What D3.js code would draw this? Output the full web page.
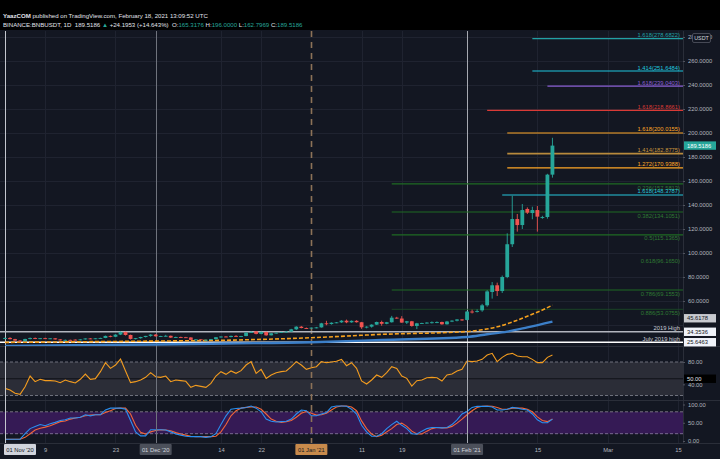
<!DOCTYPE html>
<html>
<head>
<meta charset="utf-8">
<script src="https://cdn.jsdelivr.net/npm/d3@7"></script>
<style>
body{margin:0;background:#000;}
svg{display:block;font-family:"Liberation Sans",Arial,sans-serif;}
</style>
</head>
<body>
<svg id="chart" width="720" height="459"></svg>
<script>
// daily candles from 01 Nov 2020, [open, high, low, close]
var firstDay = "2020-11-01";
var candles = [
  [28.6,29.6,28.2,29.2],[29.2,29.9,28.0,28.2],[28.2,28.5,26.8,27.0],[27.0,27.5,26.2,26.6],[26.6,28.6,26.5,28.3],
  [28.3,29.6,28.0,29.1],[29.1,29.6,28.2,28.4],[28.4,29.2,28.2,29.0],[29.0,29.4,28.3,28.5],[28.5,29.1,28.2,28.9],
  [28.9,29.1,27.8,28.0],[28.0,28.3,27.0,27.2],[27.2,27.9,27.0,27.6],[27.6,27.8,27.0,27.1],[27.8,28.0,27.2,27.4],
  [27.4,28.2,27.2,28.0],[28.0,28.9,27.8,28.8],[28.8,29.1,28.2,28.4],[28.4,29.0,28.2,28.9],[28.9,29.4,28.7,29.2],
  [29.2,31.2,29.0,30.9],[30.9,31.2,29.8,30.2],[30.2,32.3,29.9,32.0],[32.0,34.6,31.6,34.2],[34.2,34.5,31.2,31.7],
  [31.7,32.0,27.9,28.4],[28.4,29.2,28.0,29.0],[29.0,30.2,28.6,30.0],[30.0,31.0,29.6,30.9],[30.9,32.4,30.2,32.0],
  // Dec
  [32.0,32.4,30.4,30.6],[30.6,31.0,30.2,30.8],[30.8,31.8,30.3,31.0],[31.0,31.2,29.2,29.5],[29.5,30.3,29.2,30.0],
  [30.0,30.3,29.5,29.8],[29.8,30.1,29.3,29.6],[29.6,29.9,27.3,27.6],[27.6,28.2,27.0,28.0],[28.0,28.3,27.4,27.6],
  [27.6,27.9,27.1,27.7],[27.7,28.3,27.5,28.2],[28.2,30.0,28.0,29.8],[29.8,30.6,29.4,30.4],[30.4,30.8,29.8,30.0],
  [30.0,31.2,29.6,30.9],[30.9,31.6,30.0,30.2],[30.2,31.0,29.9,30.8],[30.8,34.0,30.6,33.6],[33.6,34.8,33.3,34.2],
  [34.7,35.0,32.2,32.6],[32.6,34.6,32.2,34.2],[34.2,34.5,31.0,31.4],[31.4,33.4,31.2,33.1],[33.1,33.8,32.8,33.6],
  [33.6,34.3,33.3,34.1],[34.1,35.0,33.6,34.5],[34.5,36.8,34.2,36.4],[36.4,39.0,35.8,38.6],[38.6,39.2,37.2,37.5],
  [37.5,37.9,36.8,37.3],
  // Jan
  [37.3,38.0,37.0,37.8],[37.8,38.4,37.2,38.0],[38.0,41.8,37.8,41.4],[41.4,43.5,39.8,40.8],[40.8,42.2,40.3,41.9],
  [41.9,42.5,41.5,42.2],[42.2,44.0,41.8,43.6],[43.6,44.5,41.5,42.2],[42.2,43.8,41.9,43.5],[43.5,44.0,42.0,42.3],
  [42.3,42.6,36.8,38.1],[38.1,39.0,37.2,38.6],[38.6,40.6,37.8,40.3],[40.3,42.8,40.0,42.5],[42.5,43.6,39.4,41.0],
  [41.0,42.6,40.6,42.3],[42.3,47.6,42.0,46.1],[46.1,46.8,45.2,45.4],[45.4,47.4,41.8,42.0],[42.0,43.4,40.8,43.1],
  [43.1,43.4,38.6,39.2],[39.2,41.8,36.6,41.4],[41.4,41.9,40.9,41.6],[41.6,42.4,41.2,42.0],[42.0,43.0,41.2,42.3],
  [42.3,43.0,41.5,42.5],[42.5,42.8,40.2,40.6],[40.6,43.4,40.3,42.9],[42.9,44.0,42.4,43.6],[43.6,45.0,43.0,44.6],
  [44.6,45.0,43.4,44.0],
  // Feb
  [44.2,51.8,43.8,51.2],[51.2,52.8,49.6,51.0],[51.0,53.0,50.4,51.6],[52.2,57.6,51.0,56.4],[56.4,69.0,55.2,68.0],
  [67.5,75.8,62.0,73.1],[73.1,75.3,64.2,68.3],[68.3,81.2,66.7,80.0],[80.0,116.4,79.0,107.3],[107.3,147.7,105.0,128.3],
  [128.3,132.5,117.8,123.3],[123.3,140.8,120.0,135.8],[136.7,138.0,132.5,133.6],[133.3,138.6,128.1,135.8],[135.8,139.2,117.8,130.3],
  [129.6,131.0,128.5,130.0],[130.0,166.0,128.6,165.3],[165.3,196.0,162.8,189.5]
];

var rsi = [
  32.8,29.9,23.9,22.1,35.8,54.9,44.8,49.0,46.6,46.6,46.0,43.0,47.8,44.8,42.4,49.0,58.5,49.0,50.2,62.7,78.8,68.6,74.6,85.3,63.9,43.0,44.8,47.8,52.5,60.9,
  53.7,52.5,54.9,44.8,47.8,46.6,45.4,34.6,38.2,36.4,34.6,41.8,54.9,62.7,57.9,63.9,59.7,64.5,74.6,80.6,59.7,66.8,50.7,56.7,60.9,62.7,63.9,71.6,80.6,74.6,66.8,
  69.8,71.6,80.6,78.8,80.0,81.2,84.7,73.4,78.8,68.6,46.0,40.6,47.8,56.7,52.5,60.9,71.6,68.6,54.9,50.7,37.0,46.6,47.8,51.9,52.5,51.9,46.0,56.7,58.5,63.9,66.8,
  81.8,80.6,81.8,84.7,92.5,95.5,80.6,88.3,93.7,95.5,90.7,89.5,89.5,84.7,78.8,78.8,88.3,92.5
];
var stochK = [
  5,5,5,5,20,34,40,45,42,47,51,56,58,63,63,65,72,69,72,72,85,90,90,90,87,56,25,14,14,31,
  31,31,30,25,19,16,13,12,12,12,10,12,20,45,69,87,89,90,92,96,90,80,60,54,52,53,54,60,74,85,83,
  69,69,74,78,93,96,96,95,87,74,43,25,13,13,20,34,45,54,43,34,20,19,27,34,37,37,36,37,45,58,74,
  81,92,95,95,95,93,85,85,87,92,90,87,85,74,58,50,50,60
];
var stochD = [
  5,5,5,5,10,20,30,35,38,42,47,53,55,60,63,65,69,71,72,72,78,83,89,90,90,74,43,24,19,25,
  29,31,30,28,23,19,16,13,12,12,12,12,13,25,45,69,83,90,92,93,93,87,74,60,54,51,53,56,65,76,81,
  76,71,72,76,85,93,96,96,93,83,55,34,19,12,16,25,34,45,49,40,27,19,19,27,34,37,36,36,40,49,60,
  72,83,92,95,96,95,92,87,87,90,90,90,87,80,66,56,53,60
];

// moving averages read at a few dates
var emaDates = ["2020-11-01","2020-11-15","2020-12-01","2020-12-15","2021-01-01","2021-01-15","2021-02-01","2021-02-04","2021-02-07","2021-02-10","2021-02-13","2021-02-16","2021-02-18"];
var emaValues = [25.5,26.0,26.6,27.3,29.4,32.2,34.6,36.0,38.5,42.5,47.3,52.5,56.5];
var smaDates = ["2020-11-01","2020-11-15","2020-12-01","2020-12-15","2021-01-01","2021-01-15","2021-02-01","2021-02-05","2021-02-09","2021-02-13","2021-02-18"];
var smaValues = [22.5,23.2,23.8,24.6,25.6,27.5,30.0,32.3,34.5,38.0,42.8];

// fib levels drawn on the chart
var fibRatios = ["1.618","1.414","1.618","1.618","1.618","1.414","1.272","0.236","1.618","0.382","0.5","0.618","0.786","0.886"];
var fibPrices = [278.6822,251.6484,239.0403,218.8661,200.0155,182.8775,170.9388,157.5813,148.3787,134.1051,115.1365,96.1650,69.1553,53.0755];
var fibFrom = ["2021-02-14","2021-02-14","2021-02-17","2021-02-05","2021-02-09","2021-02-09","2021-02-09","2021-01-17","2021-02-08","2021-01-17","2021-01-17",null,"2021-01-17","2021-01-17"];

var levelNames = ["2019 High","July 2019 high"];
var levelPrices = [34.3536, 25.6463];
var maLabel = 45.6178;
var lastPrice = 189.5186;

var priceTicks = [60,80,100,120,140,160,180,200,220,240,260,280];
var rsiTicks = [80,40];
var stochTicks = [100,50,0];
var dayTicks = ["2020-11-09","2020-11-23","2020-12-14","2020-12-22","2021-01-11","2021-01-19","2021-02-15","2021-03-01","2021-03-15"];
var dayTickLabels = ["9","23","14","22","11","19","15","Mar","15"];
var monthMarks = ["2020-11-01","2020-12-01","2021-01-01","2021-02-01"];
var monthLabels = ["01 Nov '20","01 Dec '20","01 Jan '21","01 Feb '21"];

// styles
var fibColors = ["#22a0a4","#1fc6de","#8a5fd3","#d93a36","#ffa726","#b88a3c","#ffa726","#1f6b23","#26c6da","#1f6b23","#1f6b23","#1f6b23","#1f6b23","#1d4f27"];
var fibTextColors = ["#22a0a4","#1fc6de","#8a5fd3","#d93a36","#ffa726","#c8963e","#ffa726","#2f7a33","#26c6da","#2f7a33","#2f7a33","#2f7a33","#2f7a33","#2f7a33"];
var up = "#26a69a", down = "#ef5350";

var parse = d3.utcParse("%Y-%m-%d");
var svg = d3.select("#chart");
var plotR = 683, fs = 5.8;
var mainTop = 31, mainBot = 346, rsiTop = 347, rsiBot = 400, stTop = 401, stBot = 443;

var x = d3.scaleUtc().domain([parse("2020-11-01"), parse("2021-03-15")]).range([5, 678]);
var y = d3.scaleLinear().domain([60, 260]).range([301, 61]);
var yr = d3.scaleLinear().domain([20, 80]).range([395.5, 362]);
var ys = d3.scaleLinear().domain([0, 100]).range([441, 404.5]);

var day0 = parse(firstDay);
var days = candles.map(function(c, i){ return d3.utcDay.offset(day0, i); });

svg.append("rect").attr("width", 720).attr("height", 459).attr("fill", "#000");
svg.append("rect").attr("y", 30).attr("width", 720).attr("height", 429).attr("fill", "#131722");

var defs = svg.append("defs");
[["cMain",mainTop,mainBot],["cRsi",rsiTop,rsiBot],["cSt",stTop,stBot]].forEach(function(c){
  defs.append("clipPath").attr("id", c[0]).append("rect")
    .attr("x", 0).attr("y", c[1]).attr("width", plotR).attr("height", c[2]-c[1]);
});

// grid
var grid = svg.append("g");
grid.selectAll(".hg").data(priceTicks.concat([40])).enter().append("line")
  .attr("x1", 0).attr("x2", plotR).attr("y1", function(d){ return y(d)+0.5; }).attr("y2", function(d){ return y(d)+0.5; })
  .attr("stroke", "#1f2330");
grid.selectAll(".vg").data(dayTicks).enter().append("line")
  .attr("x1", function(d){ return Math.round(x(parse(d)))+0.5; }).attr("x2", function(d){ return Math.round(x(parse(d)))+0.5; })
  .attr("y1", mainTop).attr("y2", stBot).attr("stroke", "#1f2330");

// panel separators
[mainBot+0.5, rsiBot+0.5, stBot+0.5].forEach(function(v){
  svg.append("line").attr("x1",0).attr("x2",720).attr("y1",v).attr("y2",v).attr("stroke","#2a2e39");
});
svg.append("line").attr("x1",plotR+0.5).attr("x2",plotR+0.5).attr("y1",mainTop).attr("y2",stBot).attr("stroke","#2a2e39");

// RSI background
var rsiG = svg.append("g").attr("clip-path","url(#cRsi)");
rsiG.append("rect").attr("x",0).attr("width",plotR).attr("y",yr(80)).attr("height",yr(20)-yr(80)).attr("fill","#2b2d37");
[80,20].forEach(function(v){
  rsiG.append("line").attr("x1",0).attr("x2",plotR).attr("y1",yr(v)).attr("y2",yr(v))
    .attr("stroke","#6e717c").attr("stroke-dasharray","3,2");
});
rsiG.append("line").attr("x1",0).attr("x2",plotR).attr("y1",yr(50)).attr("y2",yr(50)).attr("stroke","#101218").attr("stroke-width",1.2);

// Stoch background
var stG = svg.append("g").attr("clip-path","url(#cSt)");
stG.append("rect").attr("x",0).attr("width",plotR).attr("y",ys(80)).attr("height",ys(20)-ys(80)).attr("fill","#351a55");
stG.append("line").attr("x1",0).attr("x2",plotR).attr("y1",ys(80)).attr("y2",ys(80)).attr("stroke","#77727f").attr("stroke-dasharray","3,2");
stG.append("line").attr("x1",0).attr("x2",plotR).attr("y1",ys(20)).attr("y2",ys(20)).attr("stroke","#7a6a92").attr("stroke-dasharray","3,2");

// month marker lines
var monthStroke = ["#c3c6ce","#6f737d","#8c7258","#a6a9b1"];
monthMarks.forEach(function(d, i){
  var xx = Math.round(x(parse(d)))+0.5;
  svg.append("line").attr("x1",xx).attr("x2",xx).attr("y1",mainTop).attr("y2",stBot)
    .attr("stroke",monthStroke[i]).attr("stroke-width", i==2 ? 1.6 : 1)
    .attr("stroke-dasharray", i==2 ? "6,5" : null);
});

var main = svg.append("g").attr("clip-path","url(#cMain)");

// fib lines
fibPrices.forEach(function(p, i){
  var yy = y(p);
  if (fibFrom[i]) {
    main.append("line").attr("x1", x(parse(fibFrom[i]))).attr("x2", plotR)
      .attr("y1", yy).attr("y2", yy).attr("stroke", fibColors[i])
      .attr("stroke-width", i==5 ? 1.8 : (i==13 ? 0.8 : 1.1));
  }
  var below = +fibRatios[i] < 1;
  main.append("text").attr("x", 680).attr("y", below ? yy+5.6 : yy-1.5)
    .attr("text-anchor","end").attr("font-size", fs).attr("fill", fibTextColors[i])
    .text(fibRatios[i] + "(" + p.toFixed(4) + ")");
});

// 2019 levels
var levelColors = ["#b2b5be","#ffffff"];
levelPrices.forEach(function(p, i){
  main.append("line").attr("x1",0).attr("x2",plotR).attr("y1",y(p)).attr("y2",y(p))
    .attr("stroke",levelColors[i]).attr("stroke-width",1.4);
  main.append("text").attr("x",680).attr("y",y(p)-1.3).attr("text-anchor","end")
    .attr("font-size",fs).attr("fill","#c9ccd4").text(levelNames[i]);
});

// moving averages
var maLine = d3.line().x(function(d){ return x(d[0]); }).y(function(d){ return y(d[1]); }).curve(d3.curveMonotoneX);
main.append("path").attr("d", maLine(smaDates.map(function(d,i){ return [parse(d), smaValues[i]]; })))
  .attr("fill","none").attr("stroke","#3c7fc8").attr("stroke-width",2.4);
main.append("path").attr("d", maLine(emaDates.map(function(d,i){ return [parse(d), emaValues[i]]; })))
  .attr("fill","none").attr("stroke","#f5a01e").attr("stroke-width",1.6).attr("stroke-dasharray","4,2");

// candles
var cw = 3.8;
var cg = main.selectAll(".c").data(candles).enter().append("g");
cg.append("line")
  .attr("x1", function(d,i){ return x(days[i]); }).attr("x2", function(d,i){ return x(days[i]); })
  .attr("y1", function(d){ return y(d[1]); }).attr("y2", function(d){ return y(d[2]); })
  .attr("stroke", function(d){ return d[3] >= d[0] ? up : down; }).attr("stroke-width", 0.9);
cg.append("rect")
  .attr("x", function(d,i){ return x(days[i]) - cw/2; }).attr("width", cw)
  .attr("y", function(d){ return y(Math.max(d[0], d[3])); })
  .attr("height", function(d){ return Math.max(0.9, Math.abs(y(d[0]) - y(d[3]))); })
  .attr("fill", function(d){ return d[3] >= d[0] ? up : down; });

// RSI line
var rsiLine = d3.line().x(function(d,i){ return x(days[i]); }).y(function(d){ return yr(d); });
rsiG.append("path").attr("d", rsiLine(rsi)).attr("fill","none").attr("stroke","#f39c1f").attr("stroke-width",1.1);

// Stoch lines
var stLine = d3.line().x(function(d,i){ return x(days[i]); }).y(function(d){ return ys(d); });
stG.append("path").attr("d", stLine(stochD)).attr("fill","none").attr("stroke","#f0653a").attr("stroke-width",1.1);
stG.append("path").attr("d", stLine(stochK)).attr("fill","none").attr("stroke","#2a8ff0").attr("stroke-width",1.1);

// right price axis
var ax = svg.append("g").attr("transform","translate(" + plotR + ",0)")
  .call(d3.axisRight(y).tickValues(priceTicks).tickFormat(d3.format(".4f")).tickSize(2).tickPadding(3));
ax.select(".domain").remove();
ax.selectAll("line").attr("stroke","#50535e");
ax.selectAll("text").attr("font-size",fs).attr("fill","#b2b5be").attr("font-family","Liberation Sans, Arial, sans-serif");

var ra = svg.append("g").attr("transform","translate(" + plotR + ",0)")
  .call(d3.axisRight(yr).tickValues(rsiTicks).tickFormat(d3.format(".2f")).tickSize(2).tickPadding(3));
ra.select(".domain").remove();
ra.selectAll("line").attr("stroke","#50535e");
ra.selectAll("text").attr("font-size",fs).attr("fill","#b2b5be").attr("font-family","Liberation Sans, Arial, sans-serif");

var sa = svg.append("g").attr("transform","translate(" + plotR + ",0)")
  .call(d3.axisRight(ys).tickValues(stochTicks).tickFormat(d3.format(".2f")).tickSize(2).tickPadding(3));
sa.select(".domain").remove();
sa.selectAll("line").attr("stroke","#50535e");
sa.selectAll("text").attr("font-size",fs).attr("fill","#b2b5be").attr("font-family","Liberation Sans, Arial, sans-serif");

function axisBox(v, yy, bg, fg){
  svg.append("rect").attr("x",plotR+1).attr("y",yy-4.2).attr("width",32).attr("height",8.4).attr("fill",bg);
  svg.append("text").attr("x",plotR+4).attr("y",yy+2).attr("font-size",fs).attr("fill",fg).text(v);
}
// RSI middle line value
axisBox("50.00", yr(50), "#000", "#e0e3eb");
// level boxes at the bottom of main pane
var by = y(levelPrices[1]);
axisBox(levelPrices[1].toFixed(4), by, "#f0f3fa", "#131722");
var by2 = Math.min(y(levelPrices[0]), by - 8.6);
axisBox(levelPrices[0].toFixed(4), by2, "#f0f3fa", "#131722");
var by3 = Math.min(y(maLabel), by2 - 8.6);
axisBox(maLabel.toFixed(4), by3, "#c8cad0", "#131722");
axisBox(lastPrice.toFixed(4), y(lastPrice), up, "#ffffff");

// USDT box
svg.append("rect").attr("x",692.5).attr("y",33.5).attr("width",18).attr("height",9).attr("rx",1.5)
  .attr("fill","#131722").attr("stroke","#5d606b").attr("stroke-width",0.7);
svg.append("text").attr("x",701.5).attr("y",40.3).attr("text-anchor","middle").attr("font-size",5.4)
  .attr("fill","#d1d4dc").text("USDT");

// bottom time axis
var xa = svg.append("g").attr("transform","translate(0," + 446 + ")")
  .call(d3.axisBottom(x).tickValues(dayTicks.map(parse)).tickFormat(function(d,i){ return dayTickLabels[i]; }).tickSize(0).tickPadding(2));
xa.select(".domain").remove();
xa.selectAll("text").attr("font-size",fs).attr("fill","#b2b5be").attr("font-family","Liberation Sans, Arial, sans-serif");

var boxBg = ["#d1d4dc","#4c505b","#c88a4b","#4c505b"];
var boxFg = ["#131722","#d1d4dc","#131722","#d1d4dc"];
monthMarks.forEach(function(d, i){
  var cx = i == 0 ? 20 : x(parse(d));
  svg.append("rect").attr("x",cx-16).attr("y",444).attr("width",32).attr("height",11).attr("rx",1).attr("fill",boxBg[i]);
  svg.append("text").attr("x",cx).attr("y",452).attr("text-anchor","middle").attr("font-size",fs)
    .attr("fill",boxFg[i]).text(monthLabels[i]);
});

// header
svg.append("text").attr("x",3).attr("y",18).attr("font-size",6.1).attr("fill","#e0e3eb")
  .call(function(t){
    t.append("tspan").attr("font-weight","bold").text("YaazCOM");
    t.append("tspan").text(" published on TradingView.com, February 18, 2021 13:09:52 UTC");
  });
var h2 = svg.append("text").attr("x",3).attr("y",27).attr("font-size",6.1).attr("fill","#e0e3eb");
var parts = [["BINANCE:BNBUSDT, 1D  189.5186 ","#e0e3eb"],["\u25B2","#26a69a"],[" +24.1953 (+14.643%)  O:","#e0e3eb"],["165.3176","#26a69a"],
  [" H:","#e0e3eb"],["196.0000","#26a69a"],[" L:","#e0e3eb"],["162.7969","#26a69a"],[" C:","#e0e3eb"],["189.5186","#26a69a"]];
parts.forEach(function(p){ h2.append("tspan").attr("fill",p[1]).attr("xml:space","preserve").text(p[0]); });
</script>
</body>
</html>
